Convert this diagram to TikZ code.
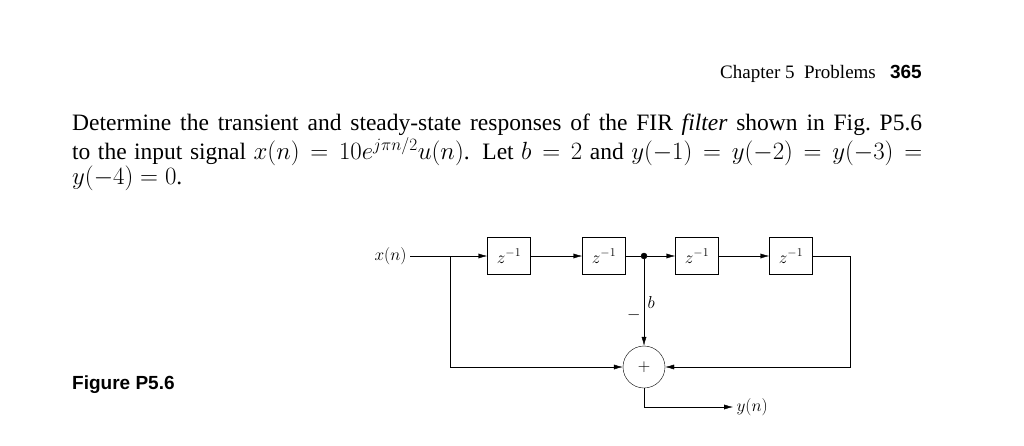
\documentclass[tikz,border=0pt]{standalone}
\usepackage{fontspec}
\setmainfont{Liberation Serif}
\newfontfamily\figsans{Liberation Sans}
\usetikzlibrary{arrows.meta}
\begin{document}
\begin{tikzpicture}[x=1pt,y=-1pt,
  delay/.style={draw,minimum width=43pt,minimum height=37pt,inner sep=0pt,font=\fontsize{18}{18}\selectfont},
  sig/.style={-{Latex[length=9pt,width=5pt]}},
  lbl/.style={font=\fontsize{18}{18}\selectfont}]
\useasboundingbox (0,0) rectangle (1024,446);

% Page text
\node[anchor=base east,font=\fontsize{19}{19}\selectfont,inner sep=0pt] (head) at (922,79)
  {Chapter 5\ \ Problems\ \ \ {\figsans\bfseries 365}};
\node[anchor=base west,text width=850pt,align=justify,inner sep=0pt,
  font=\fontsize{23.5}{22}\selectfont] (task) at (72,131)
  {Determine the transient and steady-state responses of the FIR \emph{filter} shown in Fig.~P5.6\linebreak
   to the input signal $x(n)=10e^{j\pi n/2}u(n)$. Let $b=2$ and $y(-1)=y(-2)=y(-3)=$\linebreak
   $y(-4)=0$.};
\node[anchor=base west,font=\figsans\bfseries\fontsize{19}{19}\selectfont,inner sep=0pt] (cap) at (72,389) {Figure P5.6};

% Filter
\node[lbl,anchor=east] (x) at (410,256) {$x(n)$};
\coordinate (split) at (450,256);
\node[delay] (d1) at (509,256) {$z^{-1}$};
\node[delay] (d2) at (604,256) {$z^{-1}$};
\node[delay] (d3) at (697,256) {$z^{-1}$};
\node[delay] (d4) at (791,256) {$z^{-1}$};
\node[draw,circle,fill=black,inner sep=0pt,minimum size=6pt] (tap) at (644,256) {};
\node[draw,circle,minimum size=42pt,inner sep=0pt,lbl] (sum) at (644,367) {$+$};
\coordinate (right) at (850,256);
\coordinate (out) at (644,407);
\node[lbl,anchor=west] (y) at (733,407) {$y(n)$};

\draw (x) -- (split);
\draw[sig] (split) -- (d1);
\draw[sig] (d1) -- (d2);
\draw (d2) -- (tap);
\draw[sig] (tap) -- (d3);
\draw[sig] (d3) -- (d4);
\draw[sig] (tap) -- node[lbl,right,pos=0.5] {$b$} node[lbl,left,pos=0.65] {$-$} (sum);
\draw[sig] (split) |- (sum);
\draw[sig] (d4) -| (right) |- (sum);
\draw[sig] (sum) -- (out) -- (y);
\end{tikzpicture}
\end{document}
